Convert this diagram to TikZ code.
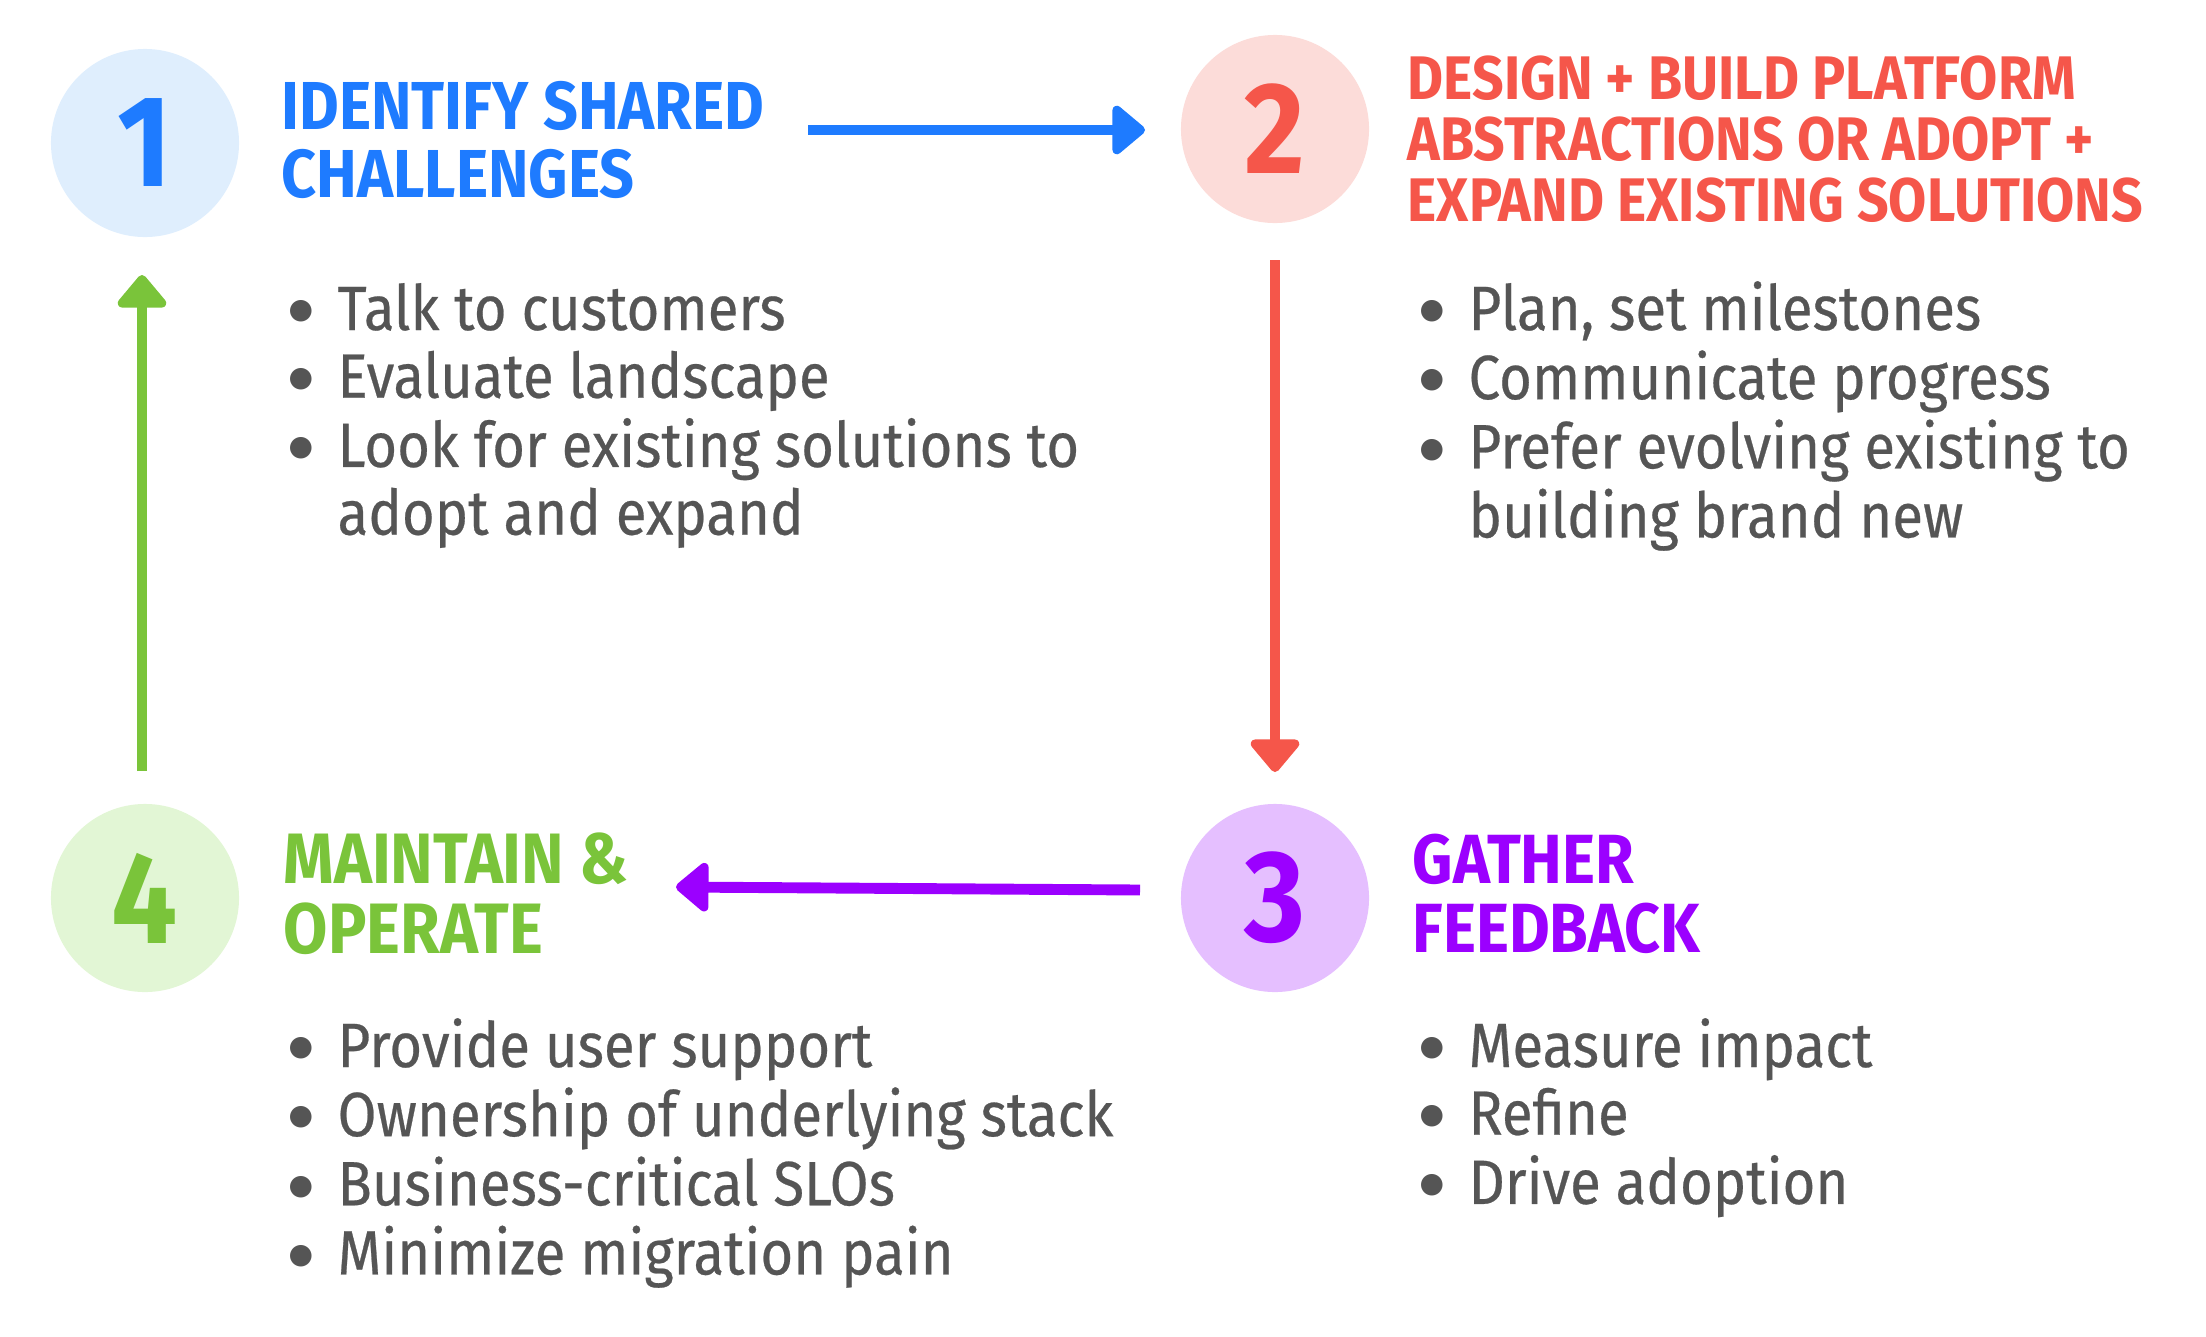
\documentclass[tikz,border=0pt]{standalone}
\usepackage{fontspec}
\setmainfont{Fira Sans}[FakeStretch=0.9,FakeBold=0.4]
\newfontfamily\headfont{Fira Sans Bold}[FakeStretch=0.9]
\newfontfamily\dotfont{DejaVu Sans}
\usepackage{xcolor}
\usetikzlibrary{arrows.meta}

\definecolor{bluefg}{HTML}{1E7BFF}
\definecolor{bluebg}{HTML}{DFEEFD}
\definecolor{redfg}{HTML}{F5564A}
\definecolor{redbg}{HTML}{FCDCD9}
\definecolor{purplefg}{HTML}{9B00FF}
\definecolor{purplebg}{HTML}{E5BFFF}
\definecolor{greenfg}{HTML}{7AC43A}
\definecolor{greenbg}{HTML}{E2F6D5}
\definecolor{bodygray}{HTML}{555555}

\newcommand{\dotitem}{\makebox[13.9pt][l]{\raisebox{3.2pt}{\dotfont\fontsize{8}{8}\selectfont ●}}}
\newcommand{\contitem}{\hspace*{13.9pt}}

\tikzset{numcirc/.style={circle,minimum size=1.88cm,inner sep=0pt,
        font=\headfont\fontsize{37}{37}\selectfont},
    heading/.style={anchor=base west,inner sep=0pt,
        font=\headfont\fontsize{19.8}{19}\selectfont},
    points/.style={anchor=base west,inner sep=0pt,text=bodygray,
        font=\fontsize{17.8}{19.26}\selectfont},
    flow/.style={line width=3.1pt,-{Triangle[length=10pt,width=16pt,round]}}}

\begin{document}
\begin{tikzpicture}[x=0.01cm,y=-0.01cm]
    \useasboundingbox (0,0) rectangle (2206,1336);
    \node[numcirc,fill=bluebg,text=bluefg] (c1) at (145,143) {1};
    \node[numcirc,fill=redbg,text=redfg] (c2) at (1275,129) {2};
    \node[numcirc,fill=purplebg,text=purplefg] (c3) at (1275,898) {3};
    \node[numcirc,fill=greenbg,text=greenfg] (c4) at (145,898) {4};

    \node[heading,text=bluefg,font=\headfont\fontsize{19.3}{19}\selectfont] (t1) at (281,129)
        {\begin{tabular}[t]{@{}l@{}}IDENTIFY SHARED\\CHALLENGES\end{tabular}};
    \node[heading,text=redfg,font=\headfont\fontsize{17.5}{16.6}\selectfont] (t2) at (1407,99)
        {\begin{tabular}[t]{@{}l@{}}DESIGN + BUILD PLATFORM\\ABSTRACTIONS OR ADOPT +\\EXPAND EXISTING SOLUTIONS\end{tabular}};
    \node[heading,text=purplefg] (t3) at (1412,883)
        {\begin{tabular}[t]{@{}l@{}}GATHER\\FEEDBACK\end{tabular}};
    \node[heading,text=greenfg,font=\headfont\fontsize{20.3}{19}\selectfont] (t4) at (283,883)
        {\begin{tabular}[t]{@{}l@{}}MAINTAIN \&\\OPERATE\end{tabular}};

    \node[points] (p1) at (288,330)
        {\begin{tabular}[t]{@{}l@{}}\dotitem Talk to customers\\\dotitem Evaluate landscape\\
        \dotitem Look for existing solutions to\\\contitem adopt and expand\end{tabular}};
    \node[points] (p2) at (1419,330)
        {\begin{tabular}[t]{@{}l@{}}\dotitem Plan, set milestones\\\dotitem Communicate progress\\
        \dotitem Prefer evolving existing to\\\contitem building brand new\end{tabular}};
    \node[points] (p3) at (1419,1067)
        {\begin{tabular}[t]{@{}l@{}}\dotitem Measure impact\\\dotitem Refine\\
        \dotitem Drive adoption\end{tabular}};
    \node[points] (p4) at (288,1067)
        {\begin{tabular}[t]{@{}l@{}}\dotitem Provide user support\\\dotitem Ownership of underlying stack\\
        \dotitem Business-critical SLOs\\\dotitem Minimize migration pain\end{tabular}};

    \coordinate (a1) at (808,130);
    \coordinate (b1) at (1145,130);
    \coordinate (a2) at (1275,260);
    \coordinate (b2) at (1275,772);
    \coordinate (a3) at (1140,890);
    \coordinate (b3) at (676,887);
    \coordinate (a4) at (142,771);
    \coordinate (b4) at (142,275);
    \draw[flow,bluefg] (a1) -- (b1);
    \draw[flow,redfg] (a2) -- (b2);
    \draw[flow,purplefg] (a3) -- (b3);
    \draw[flow,greenfg] (a4) -- (b4);
\end{tikzpicture}
\end{document}
